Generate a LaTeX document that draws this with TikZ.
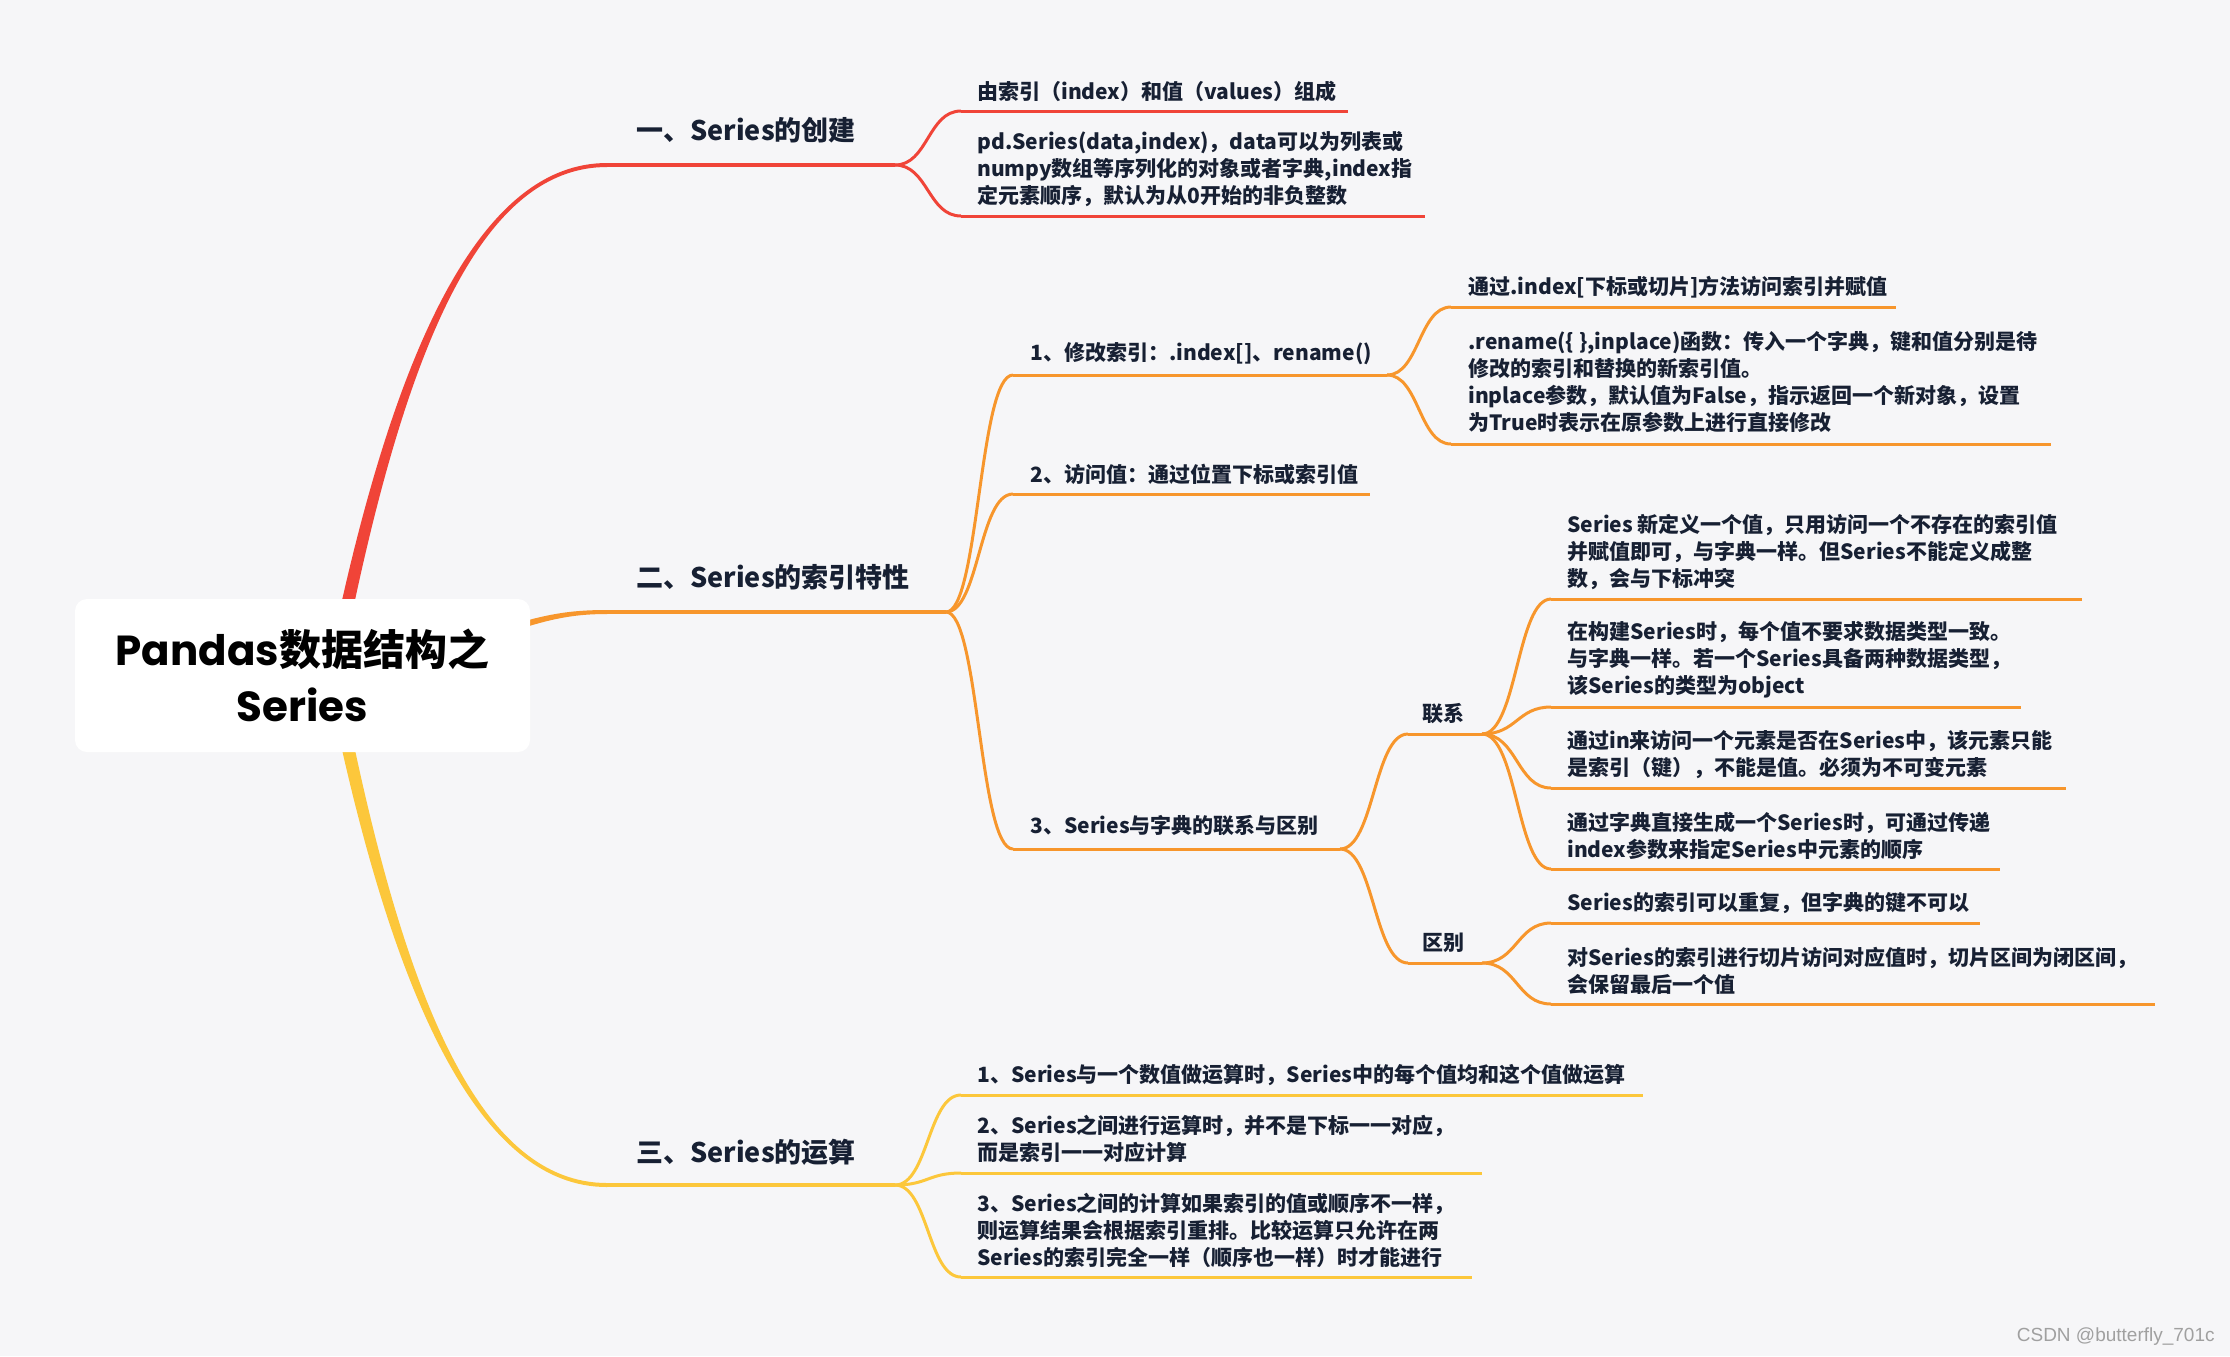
\documentclass[tikz,border=0pt]{standalone}
\usepackage{fontspec}
\setmainfont{Noto Sans CJK SC}
\newfontfamily\pop{Poppins}
\newfontfamily\wmfont{Liberation Sans}
\definecolor{bg}{HTML}{F6F6F8}
\definecolor{cred}{HTML}{F04438}
\definecolor{corg}{HTML}{F7962C}
\definecolor{cyel}{HTML}{FCC73B}
\definecolor{ink}{HTML}{172033}
\definecolor{wmgray}{HTML}{A0A0A0}
\begin{document}
\begin{tikzpicture}[x=0.5pt,y=-0.5pt,
  leaf/.style={anchor=west,inner sep=0pt,align=left,text=ink,font=\bfseries\fontsize{10.5}{13.5}\selectfont},
  mainlbl/.style={anchor=west,inner sep=0pt,text=ink,font=\bfseries\fontsize{13.5}{16}\selectfont},
  mainln/.style={line width=2pt},
  subln/.style={line width=1.5pt},
  crv/.style={line width=1.5pt},
  rootbox/.style={fill=white,rounded corners=6pt,minimum width=227.5pt,minimum height=76.5pt,inner sep=0pt,align=center,text=black,font=\bfseries\fontsize{21}{28}\selectfont}
]
\fill[bg] (0,0) rectangle (2230,1356);
\useasboundingbox (0,0) rectangle (2230,1356);

% ---------- main tapered branches ----------
\coordinate (r0) at (607,165);
\coordinate (o0) at (607,612);
\coordinate (y0) at (607,1185);
\fill[cred] (333.6,638.7) .. controls (395,349) and (480,163) .. (607,163) -- (607,167) .. controls (480,167) and (405,351) .. (346.4,641.3) -- cycle;
\fill[cyel] (333.6,711.3) .. controls (395,1001) and (480,1187) .. (607,1187) -- (607,1183) .. controls (480,1183) and (405,999) .. (346.4,708.7) -- cycle;
\fill[corg] (500,628.5) .. controls (545,614) and (570,610) .. (607,610) -- (607,614) .. controls (570,614) and (545,620) .. (500,635.5) -- cycle;

\node[rootbox] (root) at (302.5,675.5) {{\pop Pandas}数据结构之\\{\pop Series}};

% ---------- red branch ----------
\coordinate (rj) at (895,165);
\draw[cred,mainln] (r0) -- (rj);
\node[mainlbl] (L1) at (636,130) {一、Series的创建};

\coordinate (r1s) at (961,111); \coordinate (r1e) at (1348,111);
\coordinate (r2s) at (961,216); \coordinate (r2e) at (1425,216);
\draw[cred,subln] (r1s) -- (r1e);
\draw[cred,subln] (r2s) -- (r2e);
\draw[cred,crv] (rj) .. controls +(33,0) and +(-33,0) .. (r1s);
\draw[cred,crv] (rj) .. controls +(33,0) and +(-33,0) .. (r2s);
\node[leaf] (r1) at (977,91) {由索引（index）和值（values）组成};
\node[leaf] (r2) at (977,169) {pd.Series(data,index)，data可以为列表或\\numpy数组等序列化的对象或者字典,index指\\定元素顺序，默认为从0开始的非负整数};

% ---------- orange branch ----------
\coordinate (oj) at (946,612);
\draw[corg,mainln] (o0) -- (oj);
\node[mainlbl] (L2) at (636,577) {二、Series的索引特性};

\coordinate (o1s) at (1013,375); \coordinate (o1e) at (1387,375);
\coordinate (o2s) at (1013,494); \coordinate (o2e) at (1370,494);
\coordinate (o3s) at (1013,849); \coordinate (o3e) at (1340,849);
\draw[corg,subln] (o1s) -- (o1e);
\draw[corg,subln] (o2s) -- (o2e);
\draw[corg,subln] (o3s) -- (o3e);
\draw[corg,crv] (oj) .. controls +(33,0) and +(-34,0) .. (o1s);
\draw[corg,crv] (oj) .. controls +(33,0) and +(-34,0) .. (o2s);
\draw[corg,crv] (oj) .. controls +(33,0) and +(-34,0) .. (o3s);
\node[leaf] (o1) at (1030,354) {1、修改索引：.index[]、rename()};
\node[leaf] (o2) at (1030,474) {2、访问值：通过位置下标或索引值};
\node[leaf] (o3) at (1030,826) {3、Series与字典的联系与区别};

% children of o1
\coordinate (o1as) at (1451,307); \coordinate (o1ae) at (1896,307);
\coordinate (o1bs) at (1451,444); \coordinate (o1be) at (2051,444);
\draw[corg,subln] (o1as) -- (o1ae);
\draw[corg,subln] (o1bs) -- (o1be);
\draw[corg,crv] (o1e) .. controls +(32,0) and +(-32,0) .. (o1as);
\draw[corg,crv] (o1e) .. controls +(32,0) and +(-32,0) .. (o1bs);
\node[leaf] (o1a) at (1468,287) {通过.index[下标或切片]方法访问索引并赋值};
\node[leaf] (o1b) at (1468,381.5) {.rename(\{ \},inplace)函数：传入一个字典，键和值分别是待\\修改的索引和替换的新索引值。\\inplace参数，默认值为False，指示返回一个新对象，设置\\为True时表示在原参数上进行直接修改};

% children of o3
\coordinate (lxs) at (1408,734); \coordinate (lxe) at (1482,734);
\coordinate (qbs) at (1408,963); \coordinate (qbe) at (1482,963);
\draw[corg,subln] (lxs) -- (lxe);
\draw[corg,subln] (qbs) -- (qbe);
\draw[corg,crv] (o3e) .. controls +(34,0) and +(-34,0) .. (lxs);
\draw[corg,crv] (o3e) .. controls +(34,0) and +(-34,0) .. (qbs);
\node[leaf] (lx) at (1422,714) {联系};
\node[leaf] (qb) at (1422,943) {区别};

% children of 联系
\coordinate (as) at (1551,599); \coordinate (ae) at (2082,599);
\coordinate (bs) at (1551,707); \coordinate (be) at (2021,707);
\coordinate (cs) at (1551,788); \coordinate (ce) at (2066,788);
\coordinate (ds) at (1551,869); \coordinate (de) at (2000,869);
\foreach \s/\e in {as/ae,bs/be,cs/ce,ds/de}{
  \draw[corg,subln] (\s) -- (\e);
  \draw[corg,crv] (lxe) .. controls +(35,0) and +(-34,0) .. (\s);
}
\node[leaf] (la) at (1567,552) {Series 新定义一个值，只用访问一个不存在的索引值\\并赋值即可，与字典一样。但Series不能定义成整\\数，会与下标冲突};
\node[leaf] (lb) at (1567,660) {在构建Series时，每个值不要求数据类型一致。\\与字典一样。若一个Series具备两种数据类型，\\该Series的类型为object};
\node[leaf] (lc) at (1567,754.5) {通过in来访问一个元素是否在Series中，该元素只能\\是索引（键），不能是值。必须为不可变元素};
\node[leaf] (ld) at (1567,835.5) {通过字典直接生成一个Series时，可通过传递\\index参数来指定Series中元素的顺序};

% children of 区别
\coordinate (es) at (1551,923); \coordinate (ee) at (1980,923);
\coordinate (fs) at (1551,1004); \coordinate (fe) at (2155,1004);
\foreach \s/\e in {es/ee,fs/fe}{
  \draw[corg,subln] (\s) -- (\e);
  \draw[corg,crv] (qbe) .. controls +(35,0) and +(-34,0) .. (\s);
}
\node[leaf] (le) at (1567,903) {Series的索引可以重复，但字典的键不可以};
\node[leaf] (lf) at (1567,970.5) {对Series的索引进行切片访问对应值时，切片区间为闭区间，\\会保留最后一个值};

% ---------- yellow branch ----------
\coordinate (yj) at (895,1185);
\draw[cyel,mainln] (y0) -- (yj);
\node[mainlbl] (L3) at (636,1152) {三、Series的运算};

\coordinate (y1s) at (961,1095); \coordinate (y1e) at (1643,1095);
\coordinate (y2s) at (961,1173); \coordinate (y2e) at (1482,1173);
\coordinate (y3s) at (961,1277); \coordinate (y3e) at (1472,1277);
\foreach \s/\e in {y1s/y1e,y2s/y2e,y3s/y3e}{
  \draw[cyel,subln] (\s) -- (\e);
  \draw[cyel,crv] (yj) .. controls +(33,0) and +(-33,0) .. (\s);
}
\node[leaf] (y1) at (977,1075) {1、Series与一个数值做运算时，Series中的每个值均和这个值做运算};
\node[leaf] (y2) at (977,1138.5) {2、Series之间进行运算时，并不是下标一一对应，\\而是索引一一对应计算};
\node[leaf] (y3) at (977,1230) {3、Series之间的计算如果索引的值或顺序不一样，\\则运算结果会根据索引重排。比较运算只允许在两\\Series的索引完全一样（顺序也一样）时才能进行};

% watermark
\node[anchor=east,inner sep=0pt,text=wmgray,font=\wmfont\fontsize{9.5}{11}\selectfont] (wm) at (2215,1337) {CSDN @butterfly\_701c};
\end{tikzpicture}
\end{document}
